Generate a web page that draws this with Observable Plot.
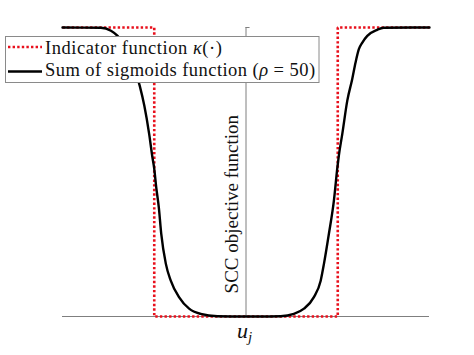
<!DOCTYPE html>
<html>
<head>
<meta charset="utf-8">
<script src="https://cdn.jsdelivr.net/npm/d3@7"></script>
<script src="https://cdn.jsdelivr.net/npm/@observablehq/plot@0.6"></script>
<style>
  html, body { margin: 0; padding: 0; background: #fff; }
  #chart { width: 474px; height: 355px; }
  svg { display: block; }
</style>
</head>
<body>
<div id="chart"></div>
<script>
// Indicator function kappa(.)
const indU = [-1, -0.5, -0.5, 0.5, 0.5, 1];
const indV = [1, 1, 0, 0, 1, 1];

// Sum of sigmoids function (rho = 50)
const sigU = [-1, -0.791, -0.736, -0.700, -0.673, -0.638, -0.606, -0.579, -0.554, -0.528, -0.510, -0.501,
  -0.489, -0.475, -0.462, -0.437, -0.410, -0.365, -0.310, -0.247, -0.156, 0,
  0.062, 0.189, 0.261, 0.316, 0.370, 0.407, 0.425, 0.452, 0.479, 0.498, 0.506, 0.525, 0.552,
  0.579, 0.597, 0.615, 0.634, 0.661, 0.715, 0.750, 1];
const sigV = [1, 0.999, 0.989, 0.971, 0.948, 0.913, 0.857, 0.798, 0.729, 0.633, 0.551, 0.516,
  0.446, 0.377, 0.287, 0.183, 0.124, 0.067, 0.027, 0.009, 0.001, 0,
  0, 0.001, 0.009, 0.027, 0.067, 0.124, 0.183, 0.287, 0.401, 0.516, 0.557, 0.633, 0.747,
  0.822, 0.879, 0.925, 0.948, 0.971, 0.992, 0.999, 1];

const seriesNames = ["Indicator function ", "Sum of sigmoids function "];
const xLabel = "u";
const xLabelSub = "j";
const yLabel = "SCC objective function";

const ind = indU.map((u, i) => ({u, v: indV[i]}));
const sig = sigU.map((u, i) => ({u, v: sigV[i]}));

const axisColor = "#7f7f7f";
const red = "#e8101c";
const serif = "'Liberation Serif', 'DejaVu Serif', serif";

const plot = Plot.plot({
  width: 474,
  height: 355,
  marginLeft: 62,
  marginRight: 45,
  marginTop: 27,
  marginBottom: 39,
  x: {domain: [-1, 1], axis: null},
  y: {domain: [0, 1], axis: null},
  style: {fontFamily: serif, background: "#fff"},
  marks: [
    Plot.ruleY([0], {stroke: axisColor, strokeWidth: 1}),
    Plot.ruleX([0], {y1: 0, y2: 1, stroke: axisColor, strokeWidth: 1}),
    Plot.ruleY([1], {x1: 0, x2: 0.022, stroke: axisColor, strokeWidth: 1}),
    Plot.text([yLabel], {x: 0, y: 0.08, text: d => d, rotate: -90, textAnchor: "start",
      lineAnchor: "bottom", dx: -8, fontSize: 19, fill: "#111", letterSpacing: "0.8px"}),
    Plot.line(ind, {x: "u", y: "v", stroke: red, strokeWidth: 2.6, strokeDasharray: "2.4,2.2",
      strokeLinecap: "butt", strokeLinejoin: "miter"}),
    Plot.line(sig, {x: "u", y: "v", stroke: "#000", strokeWidth: 2.4, curve: "monotone-x"})
  ]
});

document.getElementById("chart").appendChild(plot);

const svg = d3.select(plot);

// x label u_j
const xl = svg.append("text")
  .attr("x", 237).attr("y", 338).attr("text-anchor", "start")
  .attr("font-family", serif).attr("font-size", 22).attr("font-style", "italic").attr("fill", "#111");
xl.append("tspan").text(xLabel);
xl.append("tspan").attr("dy", 4).attr("font-size", 15).text(xLabelSub);

// legend
const lg = svg.append("g").attr("text-anchor", "start");
lg.append("rect").attr("x", 5.5).attr("y", 36.5).attr("width", 313.5).attr("height", 46)
  .attr("fill", "#fff").attr("stroke", "#8a8a8a").attr("stroke-width", 1);
lg.append("line").attr("x1", 8).attr("x2", 42).attr("y1", 47).attr("y2", 47)
  .attr("stroke", red).attr("stroke-width", 2.6).attr("stroke-dasharray", "2.4,2.2");
lg.append("line").attr("x1", 8).attr("x2", 42).attr("y1", 71.5).attr("y2", 71.5)
  .attr("stroke", "#000").attr("stroke-width", 2.4);
const t1 = lg.append("text").attr("x", 45).attr("y", 54)
  .attr("font-family", serif).attr("font-size", 18.5).attr("fill", "#111");
t1.append("tspan").text(seriesNames[0]);
t1.append("tspan").attr("font-style", "italic").text("κ");
t1.append("tspan").text("(·)");
const t2 = lg.append("text").attr("x", 45).attr("y", 76)
  .attr("font-family", serif).attr("font-size", 18.5).attr("fill", "#111");
t2.append("tspan").text(seriesNames[1] + "(");
t2.append("tspan").attr("font-style", "italic").text("ρ");
t2.append("tspan").text(" = 50)");
// stretch legend texts to the reference widths
const targetW = [177, 270];
[t1, t2].forEach((t, i) => {
  const w = t.node().getComputedTextLength();
  const n = t.text().length;
  if (w > 0 && n > 1) t.attr("letter-spacing", ((targetW[i] - w) / (n - 1)).toFixed(2) + "px");
});
</script>
</body>
</html>
